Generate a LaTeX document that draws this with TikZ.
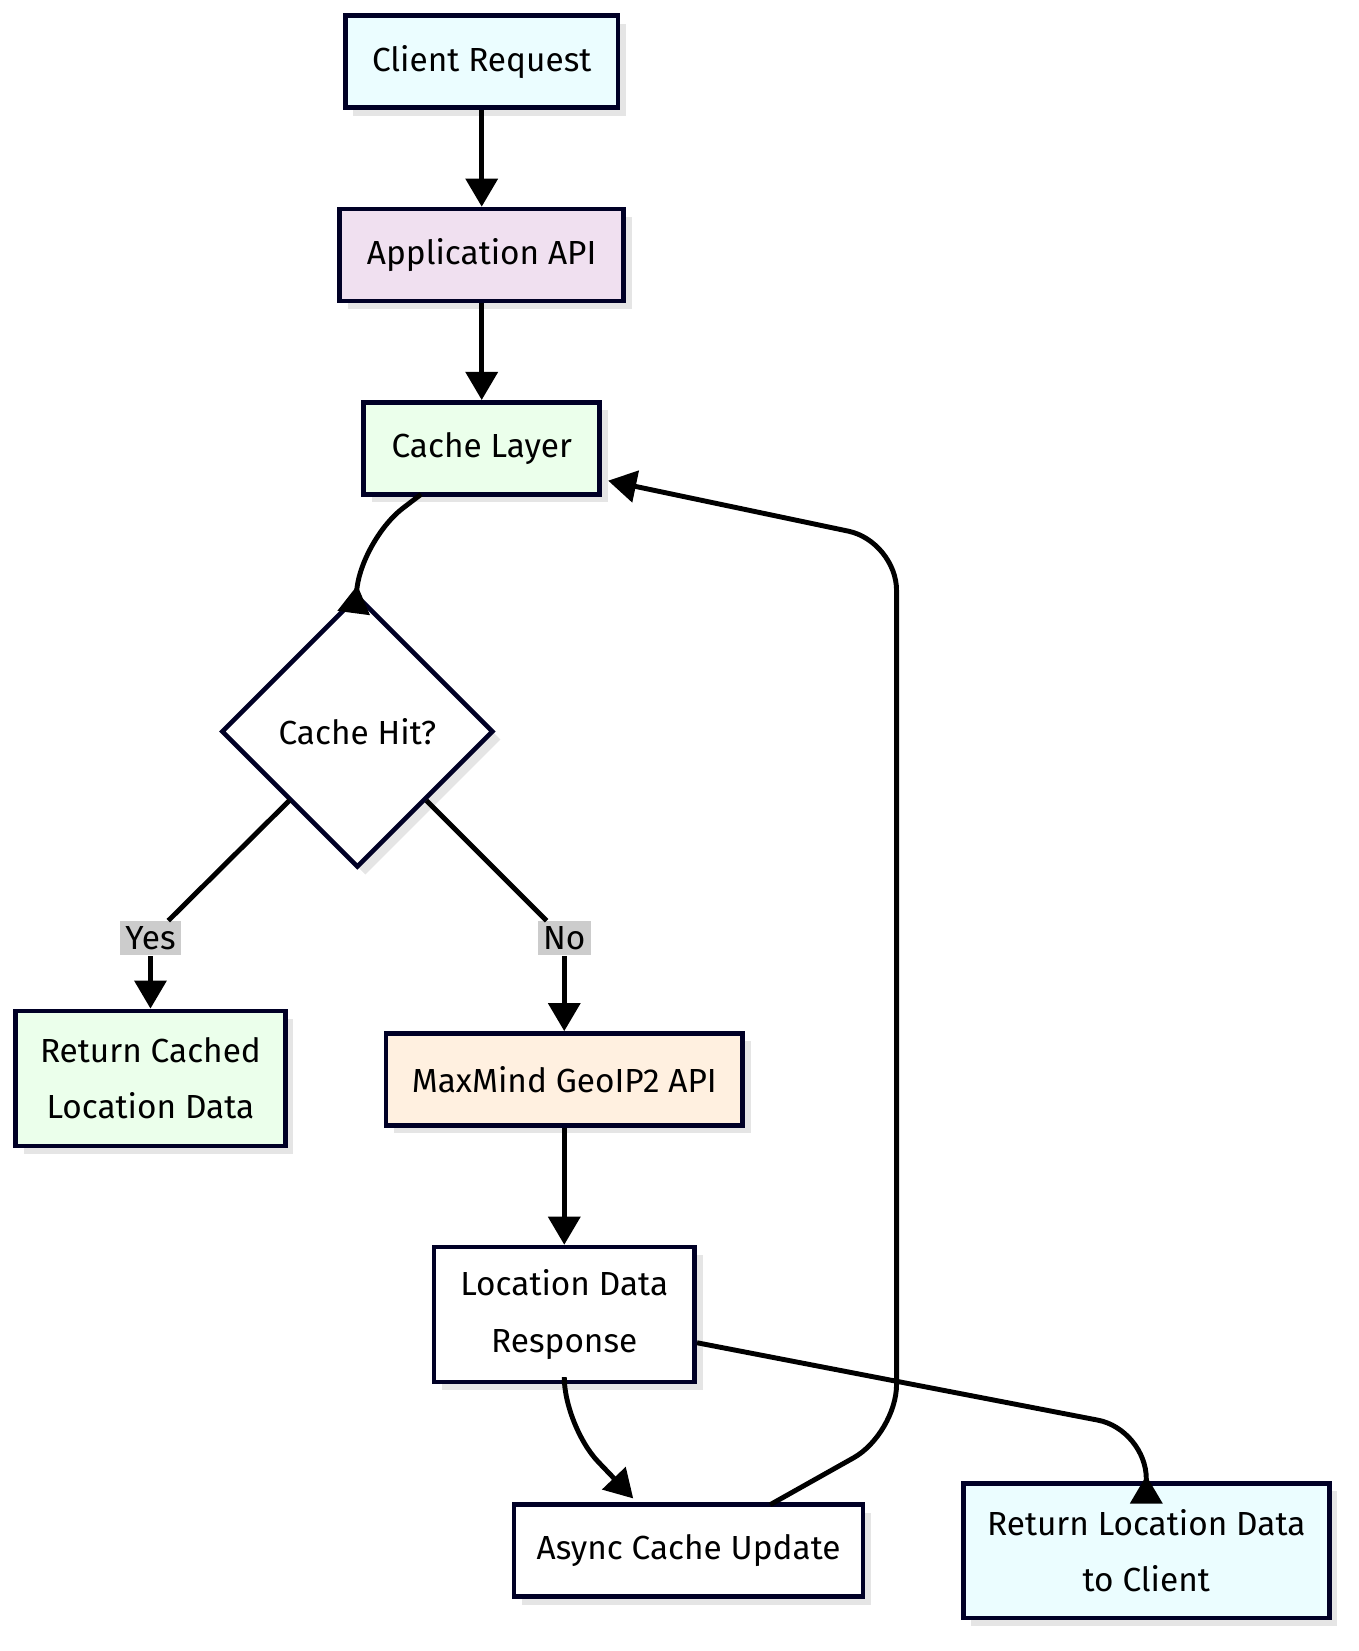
\documentclass[tikz,border=0pt]{standalone}
\usepackage{fontspec}
\setmainfont{Fira Sans}
\usetikzlibrary{shapes.geometric,arrows.meta,shadows}

\begin{document}
\begin{tikzpicture}[x=0.01045cm,y=-0.01045cm,
		box/.style={draw=black!85!blue, line width=1.3pt, align=center, inner sep=0pt,
			font=\fontsize{9.5}{16}\selectfont,
			drop shadow={shadow xshift=0.08cm, shadow yshift=-0.08cm, fill=black!10, opacity=1}},
		edge/.style={line width=1.4pt, -{Triangle[length=8pt,width=9pt]}, rounded corners=14pt},
		tag/.style={fill=black!20, inner sep=1.5pt, font=\fontsize{9.5}{12}\selectfont}]
		\useasboundingbox (0,0) rectangle (1300,1580);

		% Nodes
		\node[box, fill=blue!10!cyan!8, minimum width=2.73cm, minimum height=0.92cm] (client) at (461,59) {Client Request};
		\node[box, fill=violet!12, minimum width=2.84cm, minimum height=0.92cm] (api) at (461,244) {Application API};
		\node[box, fill=green!8, minimum width=2.36cm, minimum height=0.92cm] (cache) at (461,429) {Cache Layer};
		\node[box, diamond, fill=white, minimum width=2.72cm, minimum height=2.72cm] (hit) at (342,700) {Cache Hit?};
		\node[box, fill=green!8, minimum width=2.70cm, minimum height=1.35cm] (cached) at (144,1032) {Return Cached\\Location Data};
		\node[box, fill=orange!12, minimum width=3.57cm, minimum height=0.92cm] (maxmind) at (540,1033) {MaxMind GeoIP2 API};
		\node[box, fill=white, minimum width=2.61cm, minimum height=1.35cm] (resp) at (540,1258) {Location Data\\Response};
		\node[box, fill=white, minimum width=3.49cm, minimum height=0.92cm] (async) at (659,1484) {Async Cache Update};
		\node[box, fill=blue!10!cyan!8, minimum width=3.66cm, minimum height=1.35cm] (out) at (1097,1484) {Return Location Data\\to Client};

		% Labels
		\node[tag] (yes) at (144,898) {Yes};
		\node[tag] (no) at (540,898) {No};

		% Edges
		\draw[edge] (client) -- (api);
		\draw[edge] (api) -- (cache);
		\draw[edge] (403,473) -- (348,515) -- (342,560);
		\draw[line width=1.4pt] (277,766) -- (yes);
		\draw[edge] (yes) -- (cached);
		\draw[line width=1.4pt] (408,766) -- (no);
		\draw[edge] (no) -- (maxmind);
		\draw[edge] (maxmind) -- (resp);
		\draw[edge] (resp.south) -- (540,1365) -- (606,1434);
		\draw[edge] (resp.east |- 0,1285) -- (1097,1368) -- (1097,1412);
		\draw[edge] (737,1440) -- (858,1372) -- (858,518) -- (582,460);
	\end{tikzpicture}
\end{document}
